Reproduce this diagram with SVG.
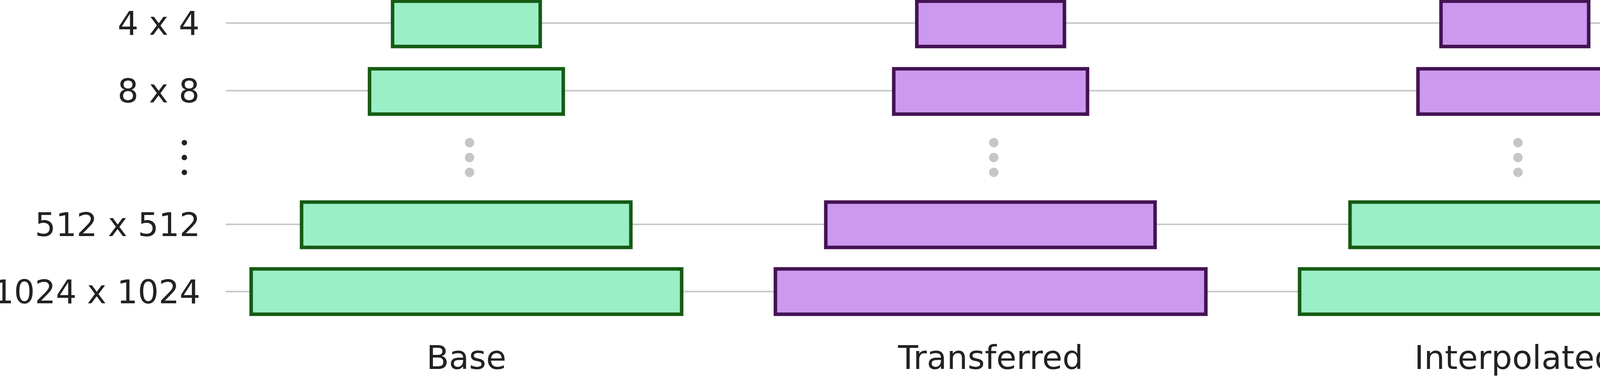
<svg xmlns="http://www.w3.org/2000/svg" width="4432" height="962" viewBox="0 0 4432 962" style="display:block">
<style>
.g{fill:#9aefc6;stroke:#155a14;stroke-width:9}
.p{fill:#cb99ee;stroke:#431253;stroke-width:9}
.grid{stroke:#c8c8c8;stroke-width:4}
.lab{font-family:"DejaVu Sans",sans-serif;font-size:84px;fill:#222}
.d{fill:#c6c6c6}
</style>
<rect width="4432" height="962" fill="#fff"/>
<g id="connectors">
<line class="grid" x1="578" y1="59" x2="4388" y2="59"/>
<line class="grid" x1="578" y1="232" x2="4388" y2="232"/>
<line class="grid" x1="578" y1="574" x2="4388" y2="574"/>
<line class="grid" x1="578" y1="746" x2="4388" y2="746"/>
</g>
<g id="labels" class="lab" text-anchor="end">
<text x="511" y="89">4 x 4</text>
<text x="511" y="262">8 x 8</text>
<text x="513" y="604">512 x 512</text>
<text x="513" y="776">1024 x 1024</text>
<circle cx="472" cy="365" r="7" fill="#222"/><circle cx="472" cy="403" r="7" fill="#222"/><circle cx="472" cy="441" r="7" fill="#222"/>
</g>
<g id="base">
<rect class="g" x="1005" y="3" width="378" height="116"/>
<rect class="g" x="946" y="176" width="496" height="116"/>
<rect class="g" x="772" y="517" width="843" height="116"/>
<rect class="g" x="643" y="688" width="1102" height="116"/>
<circle class="d" cx="1202" cy="365" r="12"/><circle class="d" cx="1202" cy="403" r="12"/><circle class="d" cx="1202" cy="441" r="12"/>
<text class="lab" x="1194" y="944" text-anchor="middle">Base</text>
</g>
<g id="transferred">
<rect class="p" x="2347" y="3" width="378" height="116"/>
<rect class="p" x="2288" y="176" width="496" height="116"/>
<rect class="p" x="2114" y="517" width="843" height="116"/>
<rect class="p" x="1985" y="688" width="1102" height="116"/>
<circle class="d" cx="2544" cy="365" r="12"/><circle class="d" cx="2544" cy="403" r="12"/><circle class="d" cx="2544" cy="441" r="12"/>
<text class="lab" x="2536" y="944" text-anchor="middle">Transferred</text>
</g>
<g id="interpolated">
<rect class="p" x="3689" y="3" width="378" height="116"/>
<rect class="p" x="3630" y="176" width="496" height="116"/>
<rect class="g" x="3456" y="517" width="843" height="116"/>
<rect class="g" x="3327" y="688" width="1100" height="116"/>
<circle class="d" cx="3886" cy="365" r="12"/><circle class="d" cx="3886" cy="403" r="12"/><circle class="d" cx="3886" cy="441" r="12"/>
<text class="lab" x="3878" y="944" text-anchor="middle">Interpolated</text>
</g>
</svg>
